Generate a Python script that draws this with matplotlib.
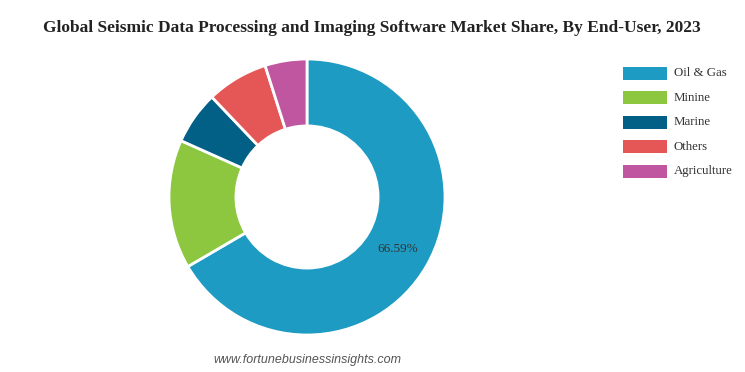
import matplotlib.pyplot as plt
from matplotlib.patches import Rectangle
import math

# market share by end-user, 2023 (%)
labels = ['Oil & Gas', 'Minine', 'Marine', 'Others', 'Agriculture']
shares = [66.59, 15.1, 6.2, 7.2, 4.91]
colors = ['#1d9bc3', '#8dc63f', '#025f86', '#e55656', '#c0569f']

W, H = 745, 372
fig = plt.figure(figsize=(W / 100, H / 100), dpi=100)

# donut centred at (307, 197) px, outer radius 138 px
cx, cy, R = 307, 197, 138
ring = 0.485
ax = fig.add_axes([(cx - R) / W, (H - cy - R) / H, 2 * R / W, 2 * R / H])
wedges, _ = ax.pie(shares, colors=colors, startangle=90, counterclock=False,
                   radius=1, wedgeprops=dict(width=ring, edgecolor='white', linewidth=2))
ax.set_xlim(-1, 1)
ax.set_ylim(-1, 1)
ax.axis('off')

# label for the largest slice, mid ring
w = wedges[0]
mid = math.radians((w.theta1 + w.theta2) / 2)
rr = 1 - ring / 2
ax.text(rr * math.cos(mid), rr * math.sin(mid), '%.2f%%' % shares[0],
        ha='center', va='center', fontsize=9.5, family='Liberation Serif', color='#333333')

fig.text(372 / W, 1 - 28 / H,
         'Global Seismic Data Processing and Imaging Software Market Share, By End-User, 2023',
         ha='center', va='center', fontsize=12.5, fontweight='bold',
         family='Liberation Serif', color='#222222')

# legend
for i, (lab, col) in enumerate(zip(labels, colors)):
    y = 73 + i * 24.6
    fig.add_artist(Rectangle((623 / W, 1 - (y + 6.5) / H), 44 / W, 13 / H,
                             transform=fig.transFigure, facecolor=col, edgecolor='none'))
    fig.text(674 / W, 1 - y / H, lab, ha='left', va='center', fontsize=9.3,
             family='Liberation Serif', color='#333333')

fig.text(307 / W, 1 - 360 / H, 'www.fortunebusinessinsights.com', ha='center', va='center',
         fontsize=9, style='italic', family='Liberation Sans', color='#555555')

fig.savefig('out.png', dpi=100)
